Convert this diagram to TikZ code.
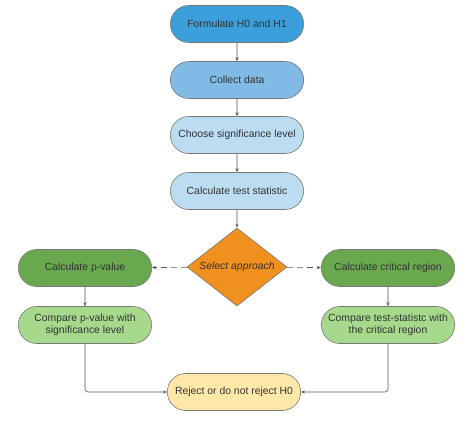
\documentclass[tikz,border=0pt]{standalone}
\usepackage{fontspec}
\setmainfont{Liberation Sans}
\usepackage{xcolor}
\usetikzlibrary{arrows.meta, positioning, shapes.geometric, shapes.misc}
\definecolor{hblue}{HTML}{3A9FDB}
\definecolor{hmidblue}{HTML}{80BBE5}
\definecolor{hpaleblue}{HTML}{BCDCF2}
\definecolor{hgreen}{HTML}{6AA84F}
\definecolor{hpalegreen}{HTML}{A6D98B}
\definecolor{horange}{HTML}{F0901F}
\definecolor{hyellow}{HTML}{FFE8A8}
\definecolor{hline}{HTML}{555555}

\begin{document}
\begin{tikzpicture}[x=1pt, y=-1pt,
  stepnode/.style={rounded rectangle, draw=hline!80, line width=0.6pt,
    minimum width=140pt, minimum height=37pt, align=center,
    font=\fontsize{10.4}{12.5}\selectfont, text=black!80},
  choice/.style={diamond, draw=hline!80, line width=0.6pt, fill=horange,
    minimum width=100pt, minimum height=78pt, inner sep=0pt, aspect=1.3,
    font=\fontsize{10.4}{12.5}\selectfont\itshape, text=black!80},
  flow/.style={draw=hline, line width=0.6pt, -{Stealth[length=4pt, width=3pt]}},
  altflow/.style={flow, dashed, dash pattern=on 6pt off 4pt},
  ]
\useasboundingbox (0,0) rectangle (474,424);
% main column
\node[stepnode, fill=hblue]     (formulate) at (237,24)  {Formulate H0 and H1};
\node[stepnode, fill=hmidblue]  (collect)   at (237,80)  {Collect data};
\node[stepnode, fill=hpaleblue] (level)     at (237,135) {Choose significance level};
\node[stepnode, fill=hpaleblue] (teststat)  at (237,191) {Calculate test statistic};
\node[choice] (approach) at (237,267) {Select approach};
% p-value branch
\node[stepnode, fill=hgreen]     (pvalue)   at (85,268)  {Calculate p-value};
\node[stepnode, fill=hpalegreen] (comparep) at (85,325)  {Compare p-value with\\significance level};
% critical region branch
\node[stepnode, fill=hgreen]     (critical) at (388,268) {Calculate critical region};
\node[stepnode, fill=hpalegreen] (comparec) at (388,325) {Compare test-statistc with\\the critical region};
% decision
\node[stepnode, fill=hyellow] (decision) at (234,392) {Reject or do not reject H0};

\draw[flow] (formulate) -- (collect);
\draw[flow] (collect) -- (level);
\draw[flow] (level) -- (teststat);
\draw[flow] (teststat) -- (approach);
\draw[altflow] (approach) -- (pvalue);
\draw[altflow] (approach) -- (critical);
\draw[flow] (pvalue) -- (comparep);
\draw[flow] (critical) -- (comparec);
\draw[flow, rounded corners=3pt] (comparep) |- (decision);
\draw[flow, rounded corners=3pt] (comparec) |- (decision);
\end{tikzpicture}
\end{document}
